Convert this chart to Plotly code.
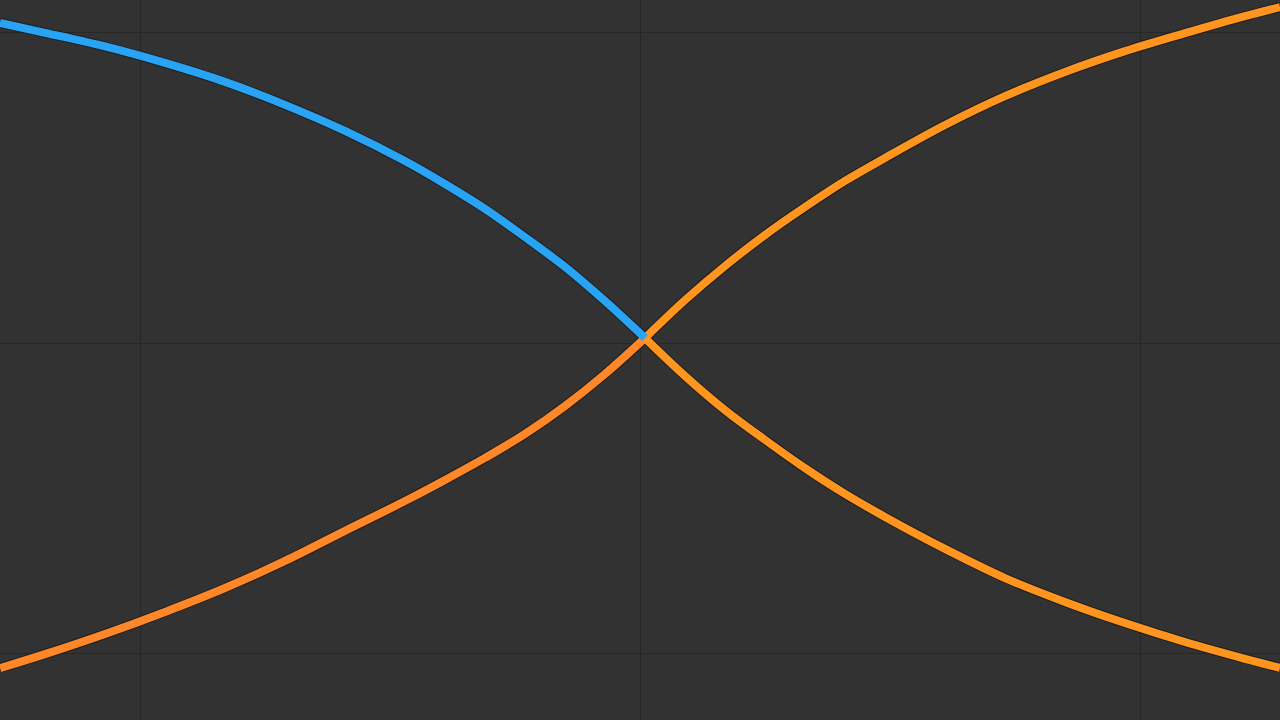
import plotly.graph_objects as go

# Data (axis units: major grid every 1.0)
x_left = [-1.28, -1.19, -1.07, -0.95, -0.83, -0.71, -0.59, -0.47, -0.39, -0.31, -0.23, -0.15, -0.07, 0.01]
blue_left = [1.031, 0.999, 0.955, 0.902, 0.841, 0.767, 0.683, 0.586, 0.512, 0.432, 0.341, 0.245, 0.135, 0.016]
orange_left = [-1.047, -1.002, -0.937, -0.866, -0.789, -0.702, -0.605, -0.509, -0.441, -0.370, -0.293, -0.203, -0.100, 0.016]

x_right = [0.01, 0.09, 0.17, 0.25, 0.33, 0.41, 0.49, 0.61, 0.73, 0.85, 0.97, 1.09, 1.21, 1.28]
orange_up = [0.016, 0.138, 0.248, 0.348, 0.438, 0.522, 0.596, 0.702, 0.795, 0.873, 0.940, 0.998, 1.053, 1.082]
orange_down = [0.016, -0.106, -0.216, -0.312, -0.403, -0.486, -0.560, -0.663, -0.757, -0.834, -0.902, -0.963, -1.017, -1.046]

BLUE = "#29a3f3"
ORANGE_L = "#ff8727"
ORANGE_R = "#ff951f"
SHADOW = "#1f1f1f"

fig = go.Figure()

segments = [
    (x_left, orange_left, ORANGE_L),
    (x_right, orange_down, ORANGE_R),
    (x_right, orange_up, ORANGE_R),
    (x_left, blue_left, BLUE),
]

for xs, ys, col in segments:
    fig.add_trace(go.Scatter(x=xs, y=ys, mode="lines",
                             line=dict(color=SHADOW, width=10, shape="spline", smoothing=1.0),
                             hoverinfo="skip", showlegend=False))
for xs, ys, col in segments:
    fig.add_trace(go.Scatter(x=xs, y=ys, mode="lines",
                             line=dict(color=col, width=8, shape="spline", smoothing=1.0),
                             showlegend=False))

axis_common = dict(
    showgrid=True, gridcolor="#272727", gridwidth=1.2,
    zeroline=False, showticklabels=False, ticks="", showline=False,
    dtick=1.0, tick0=0,
    minor=dict(showgrid=True, gridcolor="#303030", gridwidth=1, dtick=0.2, tick0=0),
    fixedrange=True,
)

fig.update_layout(
    width=1280, height=720,
    margin=dict(l=0, r=0, t=0, b=0),
    paper_bgcolor="#323232", plot_bgcolor="#323232",
    xaxis=dict(range=[-1.28, 1.28], **axis_common),
    yaxis=dict(range=[-1.2142, 1.1047], **axis_common),
    showlegend=False,
)

fig.write_html(
    "out.html",
    config={"displayModeBar": False},
    post_script="document.body.style.margin='0';document.body.style.padding='0';"
                "document.body.style.background='#323232';document.body.style.overflow='hidden';",
)
